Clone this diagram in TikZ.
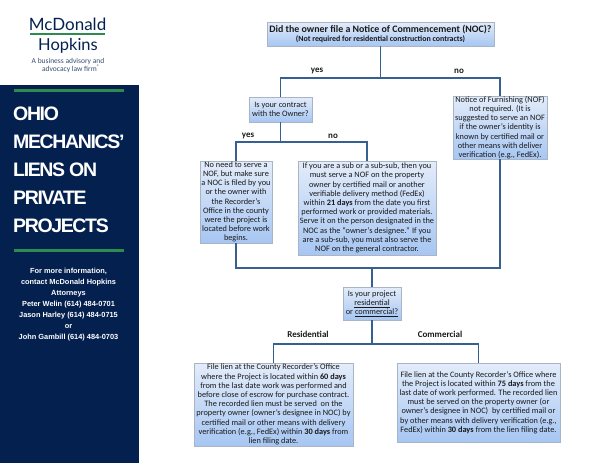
\documentclass[tikz,border=0pt]{standalone}
\usepackage{fontspec}
\setmainfont{Carlito}
\newfontfamily\titlefont[LetterSpace=-7]{Liberation Sans}
\newfontfamily\sidefont{Liberation Sans}
\newfontfamily\logofont{Lato}
\definecolor{navy}{HTML}{03204F}
\definecolor{barGreen}{HTML}{2E8B4F}
\definecolor{linkBlue}{HTML}{35608F}
\definecolor{boxTop}{HTML}{E3ECFA}
\definecolor{boxBottom}{HTML}{A6C6F2}
\definecolor{boxEdge}{HTML}{A9B4C4}
\tikzset{
  box/.style={draw=boxEdge,top color=boxTop,bottom color=boxBottom,inner sep=0pt,align=center,
    text=black!90,font=\fontsize{8.3}{9.2}\selectfont},
  link/.style={draw=linkBlue,line width=1.3pt},
  choice/.style={font=\fontsize{9}{10}\selectfont\bfseries,text=black!90},
  bar/.style={draw=none,fill=barGreen},
}
\begin{document}
\begin{tikzpicture}[x=1pt,y=-1pt]
  \useasboundingbox (0,0) rectangle (600,463);
  % side panel
  \fill[navy] (0,85) rectangle (139,463);
  \fill[bar] (14,89) rectangle (124,91.5);
  \fill[bar] (14,249) rectangle (124,251.5);
  \node[text=navy,font=\logofont\fontsize{17}{17}\selectfont] (firm1) at (67.5,24) {McDonald};
  \fill[barGreen] (30,33.2) rectangle (105,35);
  \node[text=navy,font=\logofont\fontsize{16.5}{17}\selectfont] (firm2) at (68,46) {Hopkins};
  \node[text=navy!80,align=center,font=\fontsize{7.5}{9}\selectfont] (firm3) at (68,65.5) {A business advisory and\\\hspace*{6pt}advocacy law firm\textsuperscript{®}};
  \node[anchor=west,inner sep=0pt,align=left,text=white,font=\titlefont\bfseries\fontsize{19.5}{28}\selectfont] (title) at (13,170) {OHIO\\MECHANICS’\\LIENS ON\\PRIVATE\\PROJECTS};
  \node[text=white,align=center,inner sep=0pt,font=\sidefont\bfseries\fontsize{7.4}{11}\selectfont] (contact) at (68.5,305) {For more information,\\contact McDonald Hopkins\\Attorneys\\Peter Welin (614) 484-0701\hspace*{7pt}\\Jason Harley (614) 484-0715\\or\\John Gambill (614) 484-0703};

  % decision boxes
  \node[box,minimum width=227pt,minimum height=24pt] (noc) at (380.5,34) {{\fontsize{9.9}{11}\selectfont\bfseries Did the owner file a Notice of Commencement (NOC)?}\\{\fontsize{7.9}{9}\selectfont\bfseries (Not required for residential construction contracts)}};
  \node[box,minimum width=63pt,minimum height=25pt] (contract) at (280.5,109.5) {Is your contract\\with the Owner?};
  \node[box,minimum width=94pt,minimum height=63pt] (nof) at (500,127.5) {Notice of Furnishing (NOF)\\not required. (It is\\suggested to serve an NOF\\if the owner’s identity is\\known by certified mail or\\other means with deliver\\verification (e.g., FedEx).};
  \node[box,minimum width=72pt,minimum height=82pt] (noneed) at (236,202) {No need to serve a\\NOF, but make sure\\a NOC is filed by you\\or the owner with\\the Recorder’s\\Office in the county\\were the project is\\located before work\\begins.};
  \node[box,minimum width=138pt,minimum height=94pt] (mustserve) at (367,208) {If you are a sub or a sub-sub, then you\\must serve a NOF on the property\\owner by certified mail or another\\verifiable delivery method (FedEx)\\within \textbf{21 days} from the date you first\\performed work or provided materials.\\Serve it on the person designated in the\\NOC as the “owner’s designee.” If you\\are a sub-sub, you must also serve the\\NOF on the general contractor.};
  \node[box,minimum width=58pt,minimum height=33pt] (project) at (372,303.5) {Is your project\\\underline{residential}\\or \underline{commercial?}};
  \node[box,minimum width=159pt,minimum height=83pt] (resi) at (273.5,404.5) {File lien at the County Recorder’s Office\\where the Project is located within \textbf{60 days}\\from the last date work was performed and\\before close of escrow for purchase contract.\\The recorded lien must be served\ \ on the\\property owner (owner’s designee in NOC) by\\certified mail or other means with delivery\\verification (e.g., FedEx) within \textbf{30 days} from\\lien filing date.};
  \node[box,minimum width=163pt,minimum height=79pt] (comm) at (478.5,402.5) {File lien at the County Recorder’s Office where\\the Project is located within \textbf{75 days} from the\\last date of work performed. The recorded lien\\must be served on the property owner (or\\owner’s designee in NOC)\ \ by certified mail or\\by other means with delivery verification (e.g.,\\FedEx) within \textbf{30 days} from the lien filing date.};

  % junctions
  \coordinate (splitnoc) at (380.5,78);
  \coordinate (splitcontract) at (280.5,142);
  \coordinate (joinall) at (372,268);
  \coordinate (splitproject) at (372,344);

  % connectors
  \draw[link] (noc.south) -- (splitnoc);
  \draw[link] (contract.north) |- (splitnoc) -| (nof.north);
  \draw[link] (contract.south) -- (splitcontract);
  \draw[link] (noneed.north) |- (splitcontract) -| (mustserve.north);
  \draw[link] (noneed.south) |- (joinall) -| (nof.south);
  \draw[link] (joinall) -- (project.north);
  \draw[link] (project.south) -- (splitproject);
  \draw[link] (resi.north) |- (splitproject) -| (comm.north);

  % labels
  \node[choice] (yes1) at (317,71) {yes};
  \node[choice] (no1) at (459,71) {no};
  \node[choice] (yes2) at (248,136) {yes};
  \node[choice] (no2) at (333,136) {no};
  \node[choice] (resilabel) at (308,334) {Residential};
  \node[choice] (commlabel) at (440,334) {Commercial};
\end{tikzpicture}
\end{document}
